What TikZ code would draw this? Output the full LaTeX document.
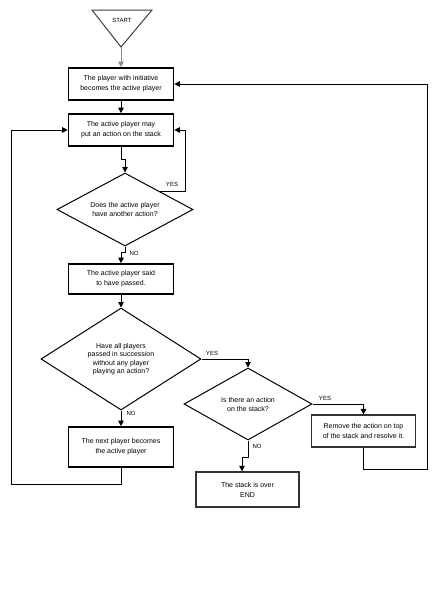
\documentclass[tikz,border=0pt]{standalone}
\usepackage{fontspec}
\setmainfont{Liberation Sans}
\usetikzlibrary{arrows.meta,shapes.geometric}
\begin{document}
\begin{tikzpicture}[x=1pt,y=-1pt,
  box/.style={draw=black,line width=1.6pt,minimum width=105pt,minimum height=32pt,align=center,inner sep=0pt,font=\fontsize{7}{10}\selectfont},
  lbox/.style={draw=black!80,line width=1.1pt,minimum width=104pt,minimum height=32pt,align=center,inner sep=0pt,font=\fontsize{7}{10}\selectfont},
  dia/.style={draw=black,line width=1pt,diamond,aspect=2,inner sep=0pt,align=center,font=\fontsize{7}{9}\selectfont},
  arr/.style={draw=black,line width=1pt,-{Triangle[length=5.5pt,width=5.5pt]}},
  lab/.style={font=\fontsize{6}{7}\selectfont,inner sep=0pt}
]
\useasboundingbox (0,0) rectangle (439,600);
% start triangle
\draw[draw=black!75,line width=1pt,line join=miter] (92,10) -- (152,10) -- (121,47) -- cycle;
\node[font=\fontsize{6}{7}\selectfont] (start) at (122,20) {START};
\coordinate (apex) at (121,47);

\node[box] (b1) at (121,84) {The player with initiative\\becomes the active player};
\node[box] (b2) at (121,130) {The active player may\\put an action on the stack};
\node[dia,minimum width=136pt,minimum height=73pt] (d1) at (125,209.5) {Does the active player\\have another action?};
\node[box,minimum height=30pt] (b3) at (121,279) {The active player said\\to have passed.};
\node[dia,aspect=1.6,minimum width=160pt,minimum height=102pt,font=\fontsize{7}{8.5}\selectfont] (d2) at (121,359) {Have all players\\passed in succession\\without any player\\playing an action?};
\node[dia,minimum width=128pt,minimum height=72pt] (d3) at (248,404) {Is there an action\\on the stack?};
\node[lbox] (b4) at (363.5,431) {Remove the action on top\\of the stack and resolve it.};
\node[lbox,line width=1.3pt,minimum width=103pt,minimum height=35pt] (b5) at (247.5,489.5) {The stack is over\\END};
\node[box,minimum height=40pt] (b6) at (121,447) {The next player becomes\\the active player};

\coordinate (rr) at (427,469);
\coordinate (ll) at (11,484);
\coordinate (nj) at (242,457);

\draw[arr,draw=black!45] (apex) -- (b1.north);
\draw[arr] (b1) -- (b2);
\draw[arr] (b2.south) -- ++(0,13) -| (d1.north);
\draw[arr] (d1.north east) -- ++(26,0) |- (b2.east);
\draw[arr] (d1.south) -- ++(0,6) -| (b3.north);
\draw[arr] (b3) -- (d2);
\draw[arr] (d2.east) -| (d3.north);
\draw[arr] (d2.south) -- (b6.north);
\draw[arr] (d3.east) -| (b4.north);
\draw[arr] (b4.south) |- (rr) |- (b1.east);
\draw[arr] (b6.south) |- (ll) |- (b2.west);
\draw[arr] (d3.south) |- (nj) -- (nj |- b5.north);

\node[lab] (y1) at (172,184) {YES};
\node[lab] (n1) at (134,253) {NO};
\node[lab] (y2) at (212,353) {YES};
\node[lab] (n2) at (131,413) {NO};
\node[lab] (y3) at (325,398) {YES};
\node[lab] (n3) at (257,446) {NO};
\end{tikzpicture}
\end{document}
